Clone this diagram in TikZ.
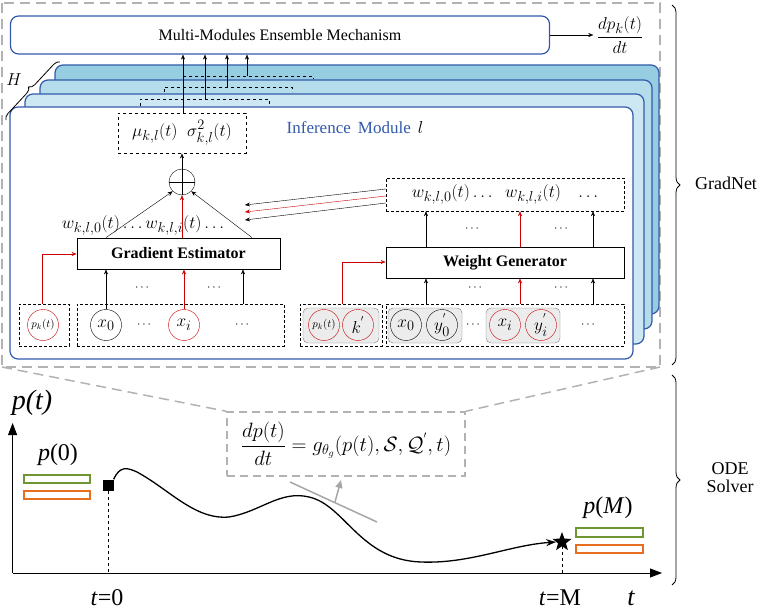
\documentclass[tikz,border=0pt]{standalone}
\usepackage{amsmath}
\usepackage{fontspec}
\setmainfont{Liberation Serif}
\usetikzlibrary{arrows.meta,decorations.pathreplacing,shapes.geometric,calc}
\definecolor{mblue}{RGB}{50,90,170}
\definecolor{lay1}{RGB}{150,205,225}
\definecolor{lay2}{RGB}{180,220,235}
\definecolor{lay3}{RGB}{205,232,242}
\definecolor{pgreen}{RGB}{110,150,50}
\definecolor{porange}{RGB}{230,110,30}
\tikzset{
  layer/.style={draw=mblue, line width=1.2pt, rounded corners=8pt},
  dbox/.style={draw, dashed, thick},
  ibox/.style={draw, densely dashed, thin},
  solid box/.style={draw, thick, fill=white, font=\bfseries\fontsize{16}{16}\selectfont, inner sep=0pt},
  var/.style={circle, draw, minimum size=31pt, inner sep=0pt, font=\fontsize{19}{19}\selectfont\itshape},
  rvar/.style={var, draw=red!80!black},
  grp/.style={draw=gray, fill=gray!15, rounded corners=5pt},
  ar/.style={-{Stealth[length=5pt,width=4pt]}},
  rar/.style={ar, red!80!black},
  dots/.style={font=\fontsize{12}{12}\selectfont},
}
\begin{document}
\begin{tikzpicture}[x=1pt,y=-1pt]
\useasboundingbox (0,0) rectangle (784,612);
% outer GradNet region
\draw[gray!60, dashed, line width=1.5pt, dash pattern=on 10pt off 6pt] (2,3) rectangle (660,367);
% stacked inference modules
\draw[layer, fill=lay1] (55,65) rectangle (659,314);
\draw[layer, fill=lay2] (40,80) rectangle (652,329);
\draw[layer, fill=lay3] (25,94) rectangle (644,344);
\draw[layer, fill=white] (10,107) rectangle (633,359);
\draw[decorate, decoration={brace, amplitude=6pt}, thick] (6,120) -- (60,62);
\node[font=\itshape\fontsize{18}{18}\selectfont] (H) at (14,80) {$H$};
% ensemble
\node[layer, draw=mblue, minimum width=539pt, minimum height=38pt, font=\fontsize{16}{16}\selectfont] (ens) at (280,35) {Multi-Modules Ensemble Mechanism};
\node[font=\fontsize{19}{19}\selectfont] (dpk) at (620,35) {$\dfrac{dp_k(t)}{dt}$};
\draw[ar] (ens.east) -- (dpk.west);
% other modules outputs
\draw[dbox] (183,76) -- (313,76) -- ++(0,3);
\draw[dbox] (164,92) -- (164,87) -- (292,87) -- ++(0,5);
\draw[dbox] (140,106) -- (140,99) -- (269,99) -- ++(0,7);
\coordinate (o2) at (205,99);
\coordinate (o3) at (227,87);
\coordinate (o4) at (247,76);
% output of module l
\node[dbox, fill=white, minimum width=128pt, minimum height=40pt, font=\fontsize{19}{19}\selectfont] (mu) at (182,133) {$\mu_{k,l}(t)\;\;\sigma^2_{k,l}(t)$};
\draw[ar] (mu.north -| 183,0) -- (ens.south -| 183,0);
\draw[ar] (o2) -- (ens.south -| o2);
\draw[ar] (o3) -- (ens.south -| o3);
\draw[ar] (o4) -- (ens.south -| o4);
\node[text=mblue, font=\fontsize{17}{17}\selectfont] (im) at (355,128) {Inference\, Module\, \textcolor{black}{$l$}};
% sum
\node[circle, draw, minimum size=26pt, inner sep=0pt] (sum) at (182,182) {};
\draw (sum.north) -- (sum.south) (sum.west) -- (sum.east);
\draw[ar] (sum) -- (mu);
% gradient estimator
\node[solid box, minimum width=203pt, minimum height=31pt] (ge) at (178.5,253.5) {Gradient Estimator};
\draw[ar] (ge.north west -| 106,0) -- (sum.south west);
\draw[ar] (ge.north east -| 252,0) -- (sum.south east);
\draw[rar] (ge.north -| 182,0) -- (sum.south);
\node[font=\fontsize{19}{19}\selectfont] (wl) at (143,225) {$w_{k,l,0}(t)\ldots w_{k,l,i}(t)\ldots$};
% weights
\node[ibox, minimum width=238pt, minimum height=33pt, font=\fontsize{19}{19}\selectfont] (w) at (505,194.5) {$w_{k,l,0}(t)\ldots\;\; w_{k,l,i}(t)\;\;\;\ldots$};
\draw[ar] (w.west |- 0,189) -- (245,205);
\draw[rar] (w.west |- 0,196) -- (245,212);
\draw[ar] (w.west |- 0,203) -- (245,220);
\node[solid box, minimum width=238pt, minimum height=31pt] (wg) at (505,262.5) {Weight Generator};
\draw[ar] (wg.north -| 426,0) -- (w.south -| 426,0);
\draw[rar] (wg.north -| 520,0) -- (w.south -| 520,0);
\draw[ar] (wg.north -| 593,0) -- (w.south -| 593,0);
\node[dots] (d1) at (473,229) {$\cdots$};
\node[dots] (d2) at (562,229) {$\cdots$};
% inputs
\node[ibox, minimum width=50pt, minimum height=42pt] (b1) at (44,325) {};
\node[ibox, minimum width=207pt, minimum height=42pt] (b2) at (180.5,325) {};
\node[ibox, minimum width=82pt, minimum height=42pt] (b3) at (341,325) {};
\node[ibox, minimum width=238pt, minimum height=42pt] (b4) at (505,325) {};
\draw[grp] (303,308) rectangle (379,343);
\draw[grp] (388,308) rectangle (462,343);
\draw[grp] (486,308) rectangle (560,343);
\node[rvar, font=\fontsize{11}{11}\selectfont] (pk1) at (43,325) {$p_k(t)$};
\node[var] (x0) at (106,325) {$x_0$};
\node[dots] (d3) at (145,325) {$\cdots$};
\node[rvar] (xi) at (184,325) {$x_i$};
\node[dots] (d4) at (243,325) {$\cdots$};
\node[rvar, font=\fontsize{11}{11}\selectfont] (pk2) at (324,325) {$p_k(t)$};
\node[rvar] (kp) at (358,325) {$k^{'}$};
\node[var] (x0b) at (406,325) {$x_0$};
\node[var] (y0) at (442,325) {$y^{'}_0$};
\node[dots] (d5) at (474,325) {$\cdots$};
\node[rvar] (xib) at (505,325) {$x_i$};
\node[rvar] (yi) at (541,325) {$y^{'}_i$};
\node[dots] (d6) at (589,325) {$\cdots$};
\draw[ar] (x0) -- (ge.south -| x0);
\draw[rar] (xi) -- (ge.south -| xi);
\draw[ar] (b2.north -| 243,0) -- (ge.south -| 243,0);
\node[dots] (d7) at (143,288) {$\cdots$};
\node[dots] (d8) at (215,288) {$\cdots$};
\draw[rar] (b1.north -| 42,0) |- (ge.west |- 0,254);
\draw[rar] (b3.north -| 342,0) |- (wg.west |- 0,262);
\draw[ar] (b4.north -| 426,0) -- (wg.south -| 426,0);
\draw[rar] (b4.north -| 520,0) -- (wg.south -| 520,0);
\draw[ar] (b4.north -| 593,0) -- (wg.south -| 593,0);
\node[dots] (d9) at (476,288) {$\cdots$};
\node[dots] (d10) at (562,288) {$\cdots$};
% zoom lines
\node[draw=gray!60, dashed, line width=1.5pt, dash pattern=on 8pt off 5pt, minimum width=238pt, minimum height=64pt, font=\fontsize{20}{20}\selectfont] (eq) at (346,444) {$\dfrac{dp(t)}{dt}=g_{\theta_g}(p(t),\mathcal{S},\mathcal{Q}^{'},t)$};
\draw[gray!60, line width=1.5pt, dash pattern=on 10pt off 6pt] (2,367) -- (eq.north west);
\draw[gray!60, line width=1.5pt, dash pattern=on 10pt off 6pt] (660,367) -- (eq.north east);
% ODE axes
\coordinate (O) at (12.6,573);
\draw[thick, -{Triangle[length=12pt,width=9pt]}] (O) -- (12.6,423);
\draw[thick, -{Triangle[length=12pt,width=9pt]}] (O) -- (662,573);
\node[font=\itshape\fontsize{28}{28}\selectfont] (pt) at (32,403) {p(t)};
\node[font=\itshape\fontsize{26}{26}\selectfont] (t) at (631,598) {t};
\node[font=\fontsize{24}{24}\selectfont] (t0) at (107,598) {\textit{t}=0};
\node[font=\fontsize{24}{24}\selectfont] (tM) at (560,598) {\textit{t}=M};
% trajectory
\node[fill=black, minimum size=11pt, inner sep=0pt] (s) at (108,485) {};
\node[star, star points=5, star point ratio=2.4, fill=black, minimum size=20pt, inner sep=0pt] (e) at (562,542) {};
\draw[dashed, thick] (s) -- (s |- O);
\draw[dashed, thick] (e) -- (e |- O);
\draw[line width=1.3pt, -{Stealth[length=10pt,width=7pt]}] (s.north east) .. controls (120,465) and (128,468) .. (137,472)
  .. controls (170,490) and (195,520) .. (229,517)
  .. controls (260,512) and (280,490) .. (309,497)
  .. controls (345,505) and (360,560) .. (421,562)
  .. controls (470,564) and (510,545) .. (e.west);
\draw[gray!70, line width=1.5pt] (290,482) -- (377,522);
\draw[gray!70, line width=1.5pt, -{Triangle[length=8pt,width=7pt]}] (335,502) -- (341,480);
% states
\node[font=\itshape\fontsize{24}{24}\selectfont] (p0) at (58,455) {p\textup{(0)}};
\draw[pgreen, line width=1.5pt] (24,475) rectangle (90,483);
\draw[porange, line width=1.5pt] (24,491) rectangle (90,499);
\node[font=\itshape\fontsize{24}{24}\selectfont] (pM) at (608,508) {p\textup{(}M\textup{)}};
\draw[pgreen, line width=1.5pt] (576,528) rectangle (643,537);
\draw[porange, line width=1.5pt] (576,545) rectangle (643,553);
% right braces
\draw[decorate, decoration={brace, amplitude=8pt}, thick] (672,5) -- (672,365);
\node[font=\fontsize{18}{18}\selectfont] (gn) at (726,183) {GradNet};
\draw[decorate, decoration={brace, amplitude=8pt}, thick] (672,375) -- (672,585);
\node[font=\fontsize{18}{18}\selectfont, align=center] (ode) at (730,478) {ODE\\Solver};
\end{tikzpicture}
\end{document}
